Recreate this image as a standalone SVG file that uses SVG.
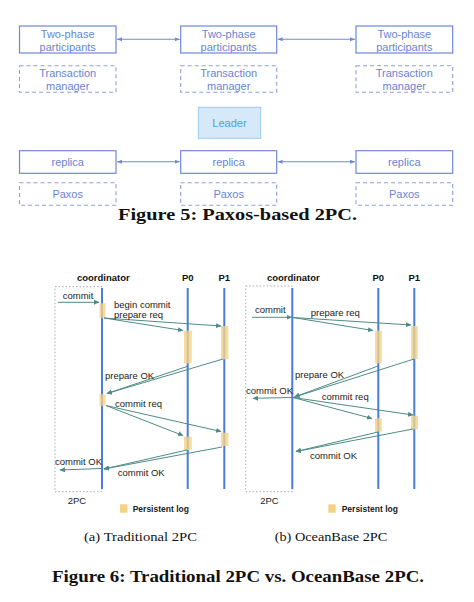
<svg xmlns="http://www.w3.org/2000/svg" width="474" height="602" viewBox="0 0 474 602">
<style>
.box{fill:#fff;stroke:#7088D8;stroke-width:1.2}
.dbox{fill:#fff;stroke:#8EA0DC;stroke-width:1.1;stroke-dasharray:4 3}
.bt{font-family:"Liberation Sans",Arial,sans-serif;font-size:11px;fill:#6A84D4;text-anchor:middle}
.link{stroke:#7088D8;stroke-width:1.1;fill:none}
.life{stroke:#4A7CDB;stroke-width:2}
.log{fill:#F3D287;opacity:0.8}
.msg{stroke:#4F8C86;stroke-width:1;fill:none;marker-end:url(#ah)}
.mt{font-family:"Liberation Sans",Arial,sans-serif;font-size:9.5px;fill:#222}
.hd{font-family:"Liberation Sans",Arial,sans-serif;font-size:9.5px;font-weight:bold;fill:#111;text-anchor:middle}
.frame{fill:none;stroke:#A8A8B8;stroke-width:1;stroke-dasharray:1.5 2}
.cap{font-family:"Liberation Serif","Times New Roman",serif;fill:#111;text-anchor:middle}
</style>
<defs>
<marker id="ah" markerWidth="6" markerHeight="6" refX="5" refY="3" orient="auto" markerUnits="userSpaceOnUse"><path d="M0,0.5 L5.5,3 L0,5.5 z" fill="#4F8C86"/></marker>
<marker id="bh" markerWidth="6" markerHeight="6" refX="5" refY="3" orient="auto-start-reverse" markerUnits="userSpaceOnUse"><path d="M0,1 L5,3 L0,5 z" fill="#7088D8"/></marker>
</defs>

<!-- Figure 5 -->
<g id="tp1"><rect class="box" x="19.5" y="26" width="96.5" height="27"/><text class="bt" x="67.7" y="38">Two-phase</text><text class="bt" x="67.7" y="51">participants</text></g>
<g id="tp2"><rect class="box" x="180.7" y="26" width="96" height="27"/><text class="bt" x="228.7" y="38">Two-phase</text><text class="bt" x="228.7" y="51">participants</text></g>
<g id="tp3"><rect class="box" x="356" y="26" width="96.7" height="27"/><text class="bt" x="404.3" y="38">Two-phase</text><text class="bt" x="404.3" y="51">participants</text></g>
<g id="tm1"><rect class="dbox" x="19.5" y="65.7" width="96.5" height="26.6"/><text class="bt" x="67.7" y="77">Transaction</text><text class="bt" x="67.7" y="90">manager</text></g>
<g id="tm2"><rect class="dbox" x="180.7" y="65.7" width="96" height="26.6"/><text class="bt" x="228.7" y="77">Transaction</text><text class="bt" x="228.7" y="90">manager</text></g>
<g id="tm3"><rect class="dbox" x="356" y="65.7" width="96.7" height="26.6"/><text class="bt" x="404.3" y="77">Transaction</text><text class="bt" x="404.3" y="90">manager</text></g>
<g id="leader"><rect x="198.3" y="107.3" width="62.4" height="31" fill="#D5E9F8" stroke="#9CCBEE" stroke-width="1"/><text class="bt" x="229.5" y="126.5" style="fill:#4EA1DE">Leader</text></g>
<g id="r1"><rect class="box" x="19.5" y="150.7" width="96.5" height="22.6"/><text class="bt" x="67.7" y="166">replica</text></g>
<g id="r2"><rect class="box" x="180.7" y="150.7" width="96" height="22.6"/><text class="bt" x="228.7" y="166">replica</text></g>
<g id="r3"><rect class="box" x="356" y="150.7" width="96.7" height="22.6"/><text class="bt" x="404.3" y="166">replica</text></g>
<g id="p1"><rect class="dbox" x="19.5" y="182.7" width="96.5" height="22.6"/><text class="bt" x="67.7" y="198">Paxos</text></g>
<g id="p2"><rect class="dbox" x="180.7" y="182.7" width="96" height="22.6"/><text class="bt" x="228.7" y="198">Paxos</text></g>
<g id="p3"><rect class="dbox" x="356" y="182.7" width="96.7" height="22.6"/><text class="bt" x="404.3" y="198">Paxos</text></g>
<g id="links5">
<line class="link" x1="117" y1="39.3" x2="179.7" y2="39.3" marker-start="url(#bh)" marker-end="url(#bh)"/>
<line class="link" x1="277.7" y1="39.3" x2="355" y2="39.3" marker-start="url(#bh)" marker-end="url(#bh)"/>
<line class="link" x1="117" y1="161.7" x2="179.7" y2="161.7" marker-start="url(#bh)" marker-end="url(#bh)"/>
<line class="link" x1="277.7" y1="161.7" x2="355" y2="161.7" marker-start="url(#bh)" marker-end="url(#bh)"/>
</g>
<text class="cap" x="237.5" y="219.5" font-size="17" font-weight="bold" textLength="239" lengthAdjust="spacingAndGlyphs">Figure 5: Paxos-based 2PC.</text>

<!-- Figure 6 (a) -->
<g id="a-frame"><rect class="frame" x="55" y="286.7" width="47" height="205"/><text class="mt" x="77" y="503.5" text-anchor="middle">2PC</text></g>
<g id="a-coord"><text class="hd" x="103.3" y="280.5">coordinator</text><line class="life" x1="102" y1="288" x2="102" y2="489"/></g>
<g id="a-p0"><text class="hd" x="187.7" y="280.5">P0</text><line class="life" x1="187.7" y1="288" x2="187.7" y2="489"/></g>
<g id="a-p1"><text class="hd" x="224.3" y="280.5">P1</text><line class="life" x1="224.3" y1="288" x2="224.3" y2="489"/></g>
<g id="a-logs">
<rect class="log" x="99.5" y="303.3" width="6" height="14.4"/>
<rect class="log" x="184" y="330.7" width="7.7" height="32.6"/>
<rect class="log" x="221" y="326" width="7.3" height="33.3"/>
<rect class="log" x="99.5" y="394.3" width="6" height="11.4"/>
<rect class="log" x="184" y="436.7" width="7.7" height="13.3"/>
<rect class="log" x="221" y="432.7" width="7.3" height="13.3"/>
</g>
<g id="a-msgs">
<line class="msg" x1="58" y1="302.3" x2="99" y2="302.3"/>
<line class="msg" x1="104" y1="318" x2="183" y2="330.5"/>
<line class="msg" x1="104" y1="318" x2="221" y2="326"/>
<line class="msg" x1="187" y1="366.5" x2="107" y2="393.5"/>
<line class="msg" x1="223" y1="359" x2="107" y2="393.5"/>
<line class="msg" x1="106" y1="405.5" x2="183" y2="435.5"/>
<line class="msg" x1="106" y1="405.5" x2="221" y2="431.5"/>
<line class="msg" x1="187" y1="450" x2="104" y2="469"/>
<line class="msg" x1="222" y1="447" x2="104" y2="469"/>
<line class="msg" x1="101" y1="468.5" x2="60" y2="470"/>
</g>
<g id="a-labels">
<text class="mt" x="62.7" y="298.5">commit</text>
<text class="mt" x="114" y="307.5">begin commit</text>
<text class="mt" x="114" y="317.5">prepare req</text>
<text class="mt" x="105" y="378.5">prepare OK</text>
<text class="mt" x="115" y="406.5">commit req</text>
<text class="mt" x="55" y="464.5">commit OK</text>
<text class="mt" x="117.7" y="475.5">commit OK</text>
</g>
<g id="a-legend"><rect x="120" y="504.3" width="7.3" height="8.4" fill="#F3D287"/><text class="mt" x="132.7" y="511.5" style="font-weight:bold;font-size:8.5px">Persistent log</text></g>

<!-- Figure 6 (b) -->
<g id="b-frame"><rect class="frame" x="245.7" y="286" width="46.6" height="205.7"/><text class="mt" x="269.5" y="503.5" text-anchor="middle">2PC</text></g>
<g id="b-coord"><text class="hd" x="293.3" y="280.5">coordinator</text><line class="life" x1="292.3" y1="288" x2="292.3" y2="489"/></g>
<g id="b-p0"><text class="hd" x="378.3" y="280.5">P0</text><line class="life" x1="378.3" y1="288" x2="378.3" y2="489"/></g>
<g id="b-p1"><text class="hd" x="414.3" y="280.5">P1</text><line class="life" x1="414.3" y1="288" x2="414.3" y2="489"/></g>
<g id="b-logs">
<rect class="log" x="375" y="330.7" width="6.7" height="32.6"/>
<rect class="log" x="411" y="326" width="6.7" height="33"/>
<rect class="log" x="375" y="418.3" width="6.7" height="13.4"/>
<rect class="log" x="411" y="415.7" width="7" height="13.6"/>
</g>
<g id="b-msgs">
<line class="msg" x1="252" y1="317.3" x2="291.5" y2="317.3"/>
<line class="msg" x1="293" y1="317.5" x2="373" y2="330.5"/>
<line class="msg" x1="293" y1="317.5" x2="411" y2="325"/>
<line class="msg" x1="378" y1="366" x2="294.5" y2="397"/>
<line class="msg" x1="414" y1="359" x2="294.5" y2="397"/>
<line class="msg" x1="292" y1="397.5" x2="253" y2="398.3"/>
<line class="msg" x1="293" y1="397.5" x2="372" y2="418.5"/>
<line class="msg" x1="293" y1="397.5" x2="413" y2="415"/>
<line class="msg" x1="378" y1="432" x2="296" y2="451.5"/>
<line class="msg" x1="413" y1="429" x2="296" y2="451.5"/>
</g>
<g id="b-labels">
<text class="mt" x="255" y="312.5">commit</text>
<text class="mt" x="310.7" y="315.5">prepare req</text>
<text class="mt" x="295" y="377.5">prepare OK</text>
<text class="mt" x="246" y="393.5">commit OK</text>
<text class="mt" x="321.7" y="400">commit req</text>
<text class="mt" x="310" y="458.5">commit OK</text>
</g>
<g id="b-legend"><rect x="328.3" y="504.3" width="7.4" height="8.4" fill="#F3D287"/><text class="mt" x="341.7" y="511.5" style="font-weight:bold;font-size:8.5px">Persistent log</text></g>

<text class="cap" x="140.5" y="540.5" font-size="12.5" textLength="113" lengthAdjust="spacingAndGlyphs">(a)  Traditional 2PC</text>
<text class="cap" x="331" y="540.5" font-size="12.5" textLength="112.6" lengthAdjust="spacingAndGlyphs">(b)  OceanBase 2PC</text>
<text class="cap" x="238" y="582" font-size="17" font-weight="bold" textLength="372" lengthAdjust="spacingAndGlyphs">Figure 6: Traditional 2PC vs. OceanBase 2PC.</text>
</svg>
